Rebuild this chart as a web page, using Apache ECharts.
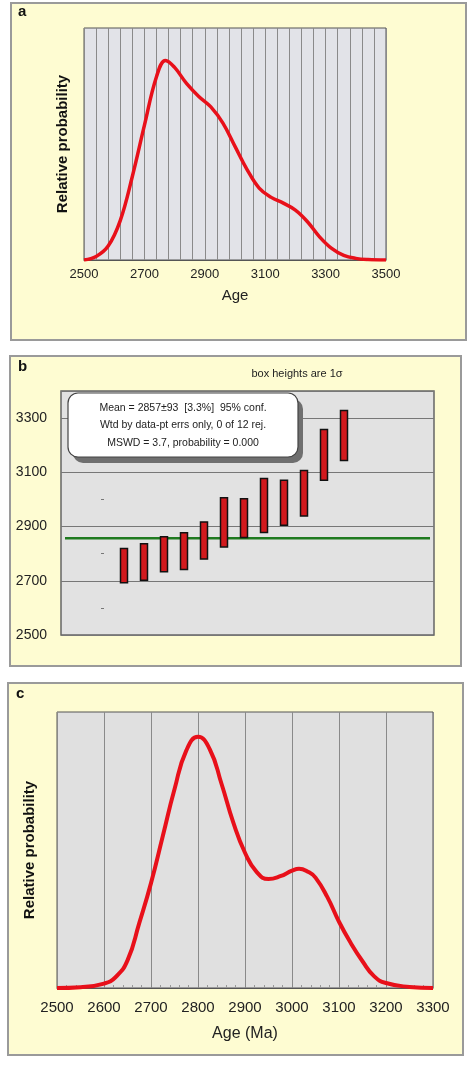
<!DOCTYPE html>
<html><head><meta charset="utf-8">
<script src="https://cdn.jsdelivr.net/npm/echarts@6/dist/echarts.min.js"></script>
<style>html,body{margin:0;padding:0;background:#fff}#c{width:474px;height:1069px}</style>
</head><body><div id="c"></div>
<script>
// Panel a: probability density
const aAges = [2500,2540,2580,2620,2660,2700,2740,2770,2800,2840,2880,2920,2960,3000,3040,3080,3120,3160,3200,3240,3280,3320,3360,3400,3440,3500];
const aProb = [0,0.015,0.06,0.17,0.36,0.58,0.79,0.86,0.83,0.76,0.705,0.66,0.59,0.49,0.39,0.31,0.27,0.245,0.215,0.165,0.10,0.05,0.02,0.007,0.002,0];
// Panel b: 1-sigma boxes
const bIndex = [1,2,3,4,5,6,7,8,9,10,11,12];
const bLow  = [2693,2702,2733,2742,2780,2825,2860,2878,2905,2939,3071,3144];
const bHigh = [2819,2837,2862,2877,2917,3006,3003,3077,3071,3107,3258,3328];
const bMean = 2857;
const bMeanSpan = [-1.95, 16.3];
const bText = ['Mean = 2857±93  [3.3%]  95% conf.','Wtd by data-pt errs only, 0 of 12 rej.','MSWD = 3.7, probability = 0.000'];
// Panel c: probability density
const cAges = [2500,2550,2600,2625,2650,2675,2700,2725,2750,2775,2800,2825,2850,2875,2900,2925,2950,2975,3000,3015,3035,3050,3075,3100,3125,3150,3175,3200,3250,3300];
const cProb = [0,0.003,0.016,0.04,0.10,0.235,0.38,0.55,0.72,0.86,0.91,0.865,0.74,0.60,0.49,0.42,0.395,0.405,0.425,0.432,0.42,0.40,0.33,0.24,0.163,0.097,0.042,0.018,0.004,0];

const F = 'Liberation Sans, Arial, sans-serif';
const chart = echarts.init(document.getElementById('c'));
const panel = (x,y,w,h)=>({type:'rect',shape:{x,y,width:w,height:h},style:{fill:'#fefcd2',stroke:'#9a9a9a',lineWidth:2},z:-10});
chart.setOption({
  animation:false,
  textStyle:{fontFamily:F},
  graphic:[
    panel(11,3,455,337), panel(10,356,451,310), panel(8,683,455,372),
    {type:'text',left:18,top:4,style:{text:'a',font:'bold 15px '+F,fill:'#111'}},
    {type:'text',left:18,top:359,style:{text:'b',font:'bold 15px '+F,fill:'#111'}},
    {type:'text',left:16,top:686,style:{text:'c',font:'bold 15px '+F,fill:'#111'}},
    {type:'text',x:297,y:374,style:{text:'box heights are 1σ',font:'11px '+F,fill:'#222',align:'center',verticalAlign:'middle'}},
    {type:'rect',shape:{x:73,y:399,width:230,height:64,r:10},style:{fill:'#6f6f6f'},z:50},
    {type:'rect',shape:{x:68,y:393,width:230,height:64,r:10},style:{fill:'#fff',stroke:'#444',lineWidth:1.2},z:51},
    {type:'text',x:183,y:408,style:{text:bText[0],font:'10.5px '+F,fill:'#222',align:'center',verticalAlign:'middle'},z:52},
    {type:'text',x:183,y:425,style:{text:bText[1],font:'10.5px '+F,fill:'#222',align:'center',verticalAlign:'middle'},z:52},
    {type:'text',x:183,y:443,style:{text:bText[2],font:'10.5px '+F,fill:'#222',align:'center',verticalAlign:'middle'},z:52}
  ],
  grid:[
    {left:84,top:28,width:302,height:232,show:true,backgroundColor:'#e2e3e8',borderColor:'#555',borderWidth:1},
    {left:61,top:391,width:373,height:244,show:true,backgroundColor:'#e2e2e2',borderColor:'#666',borderWidth:1.5},
    {left:57,top:712,width:376,height:276,show:true,backgroundColor:'#e0e0e0',borderColor:'#555',borderWidth:1}
  ],
  xAxis:[
    {gridIndex:0,type:'value',min:2500,max:3500,interval:40,
     axisLine:{show:true,lineStyle:{color:'#555'}},axisTick:{show:false},
     splitLine:{show:true,lineStyle:{color:'#8a8a8a',width:1}},
     axisLabel:{fontSize:13,color:'#222',margin:8,formatter:v=>((v-2500)%200===0?String(v):'')},
     name:'Age',nameLocation:'middle',nameGap:28,nameTextStyle:{fontSize:15,color:'#222'}},
    {gridIndex:1,type:'value',min:-2.15,max:16.5,show:false,splitLine:{show:false}},
    {gridIndex:2,type:'value',min:2500,max:3300,interval:100,
     axisLine:{show:true,lineStyle:{color:'#555'}},
     axisTick:{show:true,inside:true,length:4,lineStyle:{color:'#888'}},
     minorTick:{show:true,splitNumber:5,length:3,lineStyle:{color:'#999'}},
     splitLine:{show:true,lineStyle:{color:'#8a8a8a'}},
     axisLabel:{fontSize:15,color:'#222',margin:12,formatter:v=>String(v)},
     name:'Age (Ma)',nameLocation:'middle',nameGap:38,nameTextStyle:{fontSize:16,color:'#222'}}
  ],
  yAxis:[
    {gridIndex:0,type:'value',min:0,max:1,axisLabel:{show:false},axisTick:{show:false},axisLine:{show:false},splitLine:{show:false},
     name:'Relative probability',nameLocation:'middle',nameGap:14,nameTextStyle:{fontSize:15,fontWeight:'bold',color:'#111'}},
    {gridIndex:1,type:'value',min:2500,max:3400,interval:200,
     axisLine:{show:false},axisTick:{show:false},
     minorTick:{show:true,splitNumber:2,length:3,lineStyle:{color:'#777'}},
     splitLine:{show:true,lineStyle:{color:'#777',width:1}},
     axisLabel:{fontSize:14,color:'#222',margin:14,showMaxLabel:false,formatter:v=>String(v)}},
    {gridIndex:2,type:'value',min:0,max:1,axisLabel:{show:false},axisTick:{show:false},axisLine:{show:false},splitLine:{show:false},
     name:'Relative probability',nameLocation:'middle',nameGap:20,nameTextStyle:{fontSize:15,fontWeight:'bold',color:'#111'}}
  ],
  series:[
    {type:'line',xAxisIndex:0,yAxisIndex:0,smooth:0.4,symbol:'none',data:aAges.map((x,i)=>[x,aProb[i]]),lineStyle:{color:'#e8101a',width:3.5}},
    {type:'line',xAxisIndex:1,yAxisIndex:1,symbol:'none',data:bMeanSpan.map(x=>[x,bMean]),lineStyle:{color:'#1f7a1f',width:2.5},z:3},
    {type:'custom',xAxisIndex:1,yAxisIndex:1,z:4,
     data:bIndex.map((x,i)=>[x,bLow[i],bHigh[i]]),
     encode:{x:0,y:[1,2]},
     renderItem:(params,api)=>{
       const p1=api.coord([api.value(0),api.value(2)]), p2=api.coord([api.value(0),api.value(1)]);
       return {type:'rect',shape:{x:p1[0]-3.5,y:p1[1],width:7,height:p2[1]-p1[1]},style:{fill:'#d21a1e',stroke:'#111',lineWidth:1.5}};
     }},
    {type:'line',xAxisIndex:2,yAxisIndex:2,smooth:0.5,symbol:'none',data:cAges.map((x,i)=>[x,cProb[i]]),lineStyle:{color:'#e8101a',width:4}}
  ]
});
</script></body></html>
